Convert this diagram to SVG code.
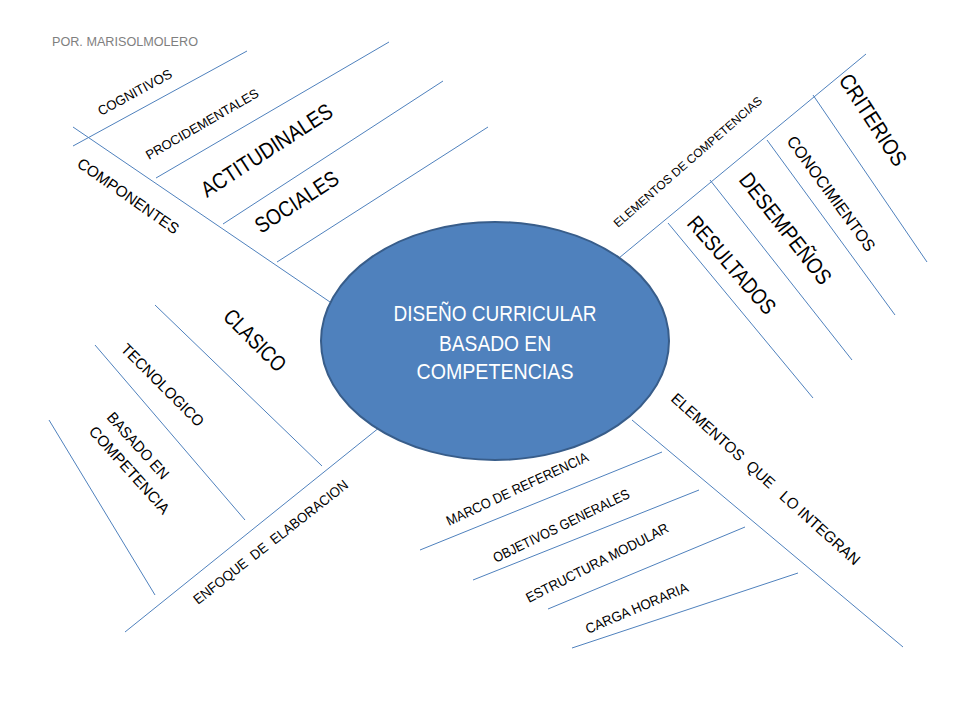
<svg xmlns="http://www.w3.org/2000/svg" width="960" height="720" viewBox="0 0 960 720">
<style>
.ln{stroke:#4F81BD;stroke-width:1;fill:none}
text{font-family:"Liberation Sans",Arial,sans-serif;fill:#000}
.pre{white-space:pre}
</style>
<rect width="960" height="720" fill="#fff"/>
<text x="52" y="46" font-size="12" style="fill:#7f7f7f" textLength="146" lengthAdjust="spacingAndGlyphs">POR. MARISOLMOLERO</text>
<g id="connectors">
<line class="ln" x1="73" y1="127" x2="330" y2="302"/>
<line class="ln" x1="73" y1="146" x2="247" y2="51"/>
<line class="ln" x1="156" y1="178" x2="389" y2="42"/>
<line class="ln" x1="223" y1="224" x2="443" y2="81"/>
<line class="ln" x1="277" y1="262" x2="488" y2="127"/>
<line class="ln" x1="619" y1="258" x2="866" y2="54"/>
<line class="ln" x1="813" y1="95" x2="927" y2="262"/>
<line class="ln" x1="767" y1="140" x2="895" y2="315"/>
<line class="ln" x1="710" y1="180" x2="852" y2="360"/>
<line class="ln" x1="668" y1="223" x2="813" y2="398"/>
<line class="ln" x1="380" y1="427" x2="125" y2="632"/>
<line class="ln" x1="322" y1="466" x2="155" y2="305"/>
<line class="ln" x1="245" y1="520" x2="95" y2="345"/>
<line class="ln" x1="155" y1="595" x2="49" y2="420"/>
<line class="ln" x1="632" y1="420" x2="903" y2="647"/>
<line class="ln" x1="420" y1="550" x2="662" y2="452"/>
<line class="ln" x1="473" y1="580" x2="699" y2="490"/>
<line class="ln" x1="548" y1="609" x2="745" y2="527"/>
<line class="ln" x1="572" y1="648" x2="798" y2="573"/>
</g>
<g id="center">
<ellipse cx="495" cy="341" rx="174" ry="119" fill="#4F81BD" stroke="#385D8A" stroke-width="2"/>
<text x="495" y="321" font-size="21.5" text-anchor="middle" style="fill:#fff" textLength="203" lengthAdjust="spacingAndGlyphs">DISEÑO CURRICULAR</text>
<text x="495" y="351" font-size="21.5" text-anchor="middle" style="fill:#fff" textLength="112" lengthAdjust="spacingAndGlyphs">BASADO EN</text>
<text x="495" y="379" font-size="21.5" text-anchor="middle" style="fill:#fff" textLength="157" lengthAdjust="spacingAndGlyphs">COMPETENCIAS</text>
</g>
<g id="componentes">
<text transform="translate(76,166) rotate(35)" font-size="15.5" textLength="120" lengthAdjust="spacingAndGlyphs">COMPONENTES</text>
</g>
<g id="cognitivos"><text transform="translate(101,116) rotate(-28.5)" font-size="13.5" textLength="82" lengthAdjust="spacingAndGlyphs">COGNITIVOS</text></g>
<g id="procidementales"><text transform="translate(149,160) rotate(-30)" font-size="13" textLength="128" lengthAdjust="spacingAndGlyphs">PROCIDEMENTALES</text></g>
<g id="actitudinales"><text transform="translate(207,198) rotate(-33)" font-size="22" textLength="152" lengthAdjust="spacingAndGlyphs">ACTITUDINALES</text></g>
<g id="sociales"><text transform="translate(261,234) rotate(-33)" font-size="22" textLength="95" lengthAdjust="spacingAndGlyphs">SOCIALES</text></g>
<g id="elementos-competencias"><text transform="translate(618,228) rotate(-41)" font-size="12" textLength="192" lengthAdjust="spacingAndGlyphs">ELEMENTOS DE COMPETENCIAS</text></g>
<g id="criterios"><text transform="translate(838,80) rotate(57)" font-size="22" textLength="105" lengthAdjust="spacingAndGlyphs">CRITERIOS</text></g>
<g id="conocimientos"><text transform="translate(786,141) rotate(54)" font-size="16.5" textLength="138" lengthAdjust="spacingAndGlyphs">CONOCIMIENTOS</text></g>
<g id="desempenos"><text transform="translate(738,180) rotate(52)" font-size="22" textLength="135" lengthAdjust="spacingAndGlyphs">DESEMPEÑOS</text></g>
<g id="resultados"><text transform="translate(686,224) rotate(49)" font-size="22" textLength="122" lengthAdjust="spacingAndGlyphs">RESULTADOS</text></g>
<g id="clasico"><text transform="translate(222,318) rotate(45)" font-size="22" textLength="78" lengthAdjust="spacingAndGlyphs">CLASICO</text></g>
<g id="tecnologico"><text transform="translate(120,350) rotate(45)" font-size="15.5" textLength="110" lengthAdjust="spacingAndGlyphs">TECNOLOGICO</text></g>
<g id="basado"><text transform="translate(106,418) rotate(48)" font-size="15.5" textLength="84" lengthAdjust="spacingAndGlyphs">BASADO EN</text>
<text transform="translate(88,432) rotate(48)" font-size="15.5" textLength="112" lengthAdjust="spacingAndGlyphs">COMPETENCIA</text></g>
<g id="enfoque"><text class="pre" xml:space="preserve" transform="translate(198,605) rotate(-38)" font-size="14" textLength="192" lengthAdjust="spacingAndGlyphs">ENFOQUE  DE  ELABORACION</text></g>
<g id="elementos-integran"><text class="pre" xml:space="preserve" transform="translate(670,400) rotate(42)" font-size="15.5" textLength="248" lengthAdjust="spacingAndGlyphs">ELEMENTOS  QUE   LO INTEGRAN</text></g>
<g id="marco"><text transform="translate(449,526) rotate(-25)" font-size="14" textLength="155" lengthAdjust="spacingAndGlyphs">MARCO DE REFERENCIA</text></g>
<g id="objetivos"><text transform="translate(496,563) rotate(-26)" font-size="14" textLength="150" lengthAdjust="spacingAndGlyphs">OBJETIVOS GENERALES</text></g>
<g id="estructura"><text transform="translate(529,603) rotate(-27)" font-size="14" textLength="158" lengthAdjust="spacingAndGlyphs">ESTRUCTURA MODULAR</text></g>
<g id="carga"><text transform="translate(588,634) rotate(-23)" font-size="14" textLength="110" lengthAdjust="spacingAndGlyphs">CARGA HORARIA</text></g>
</svg>
